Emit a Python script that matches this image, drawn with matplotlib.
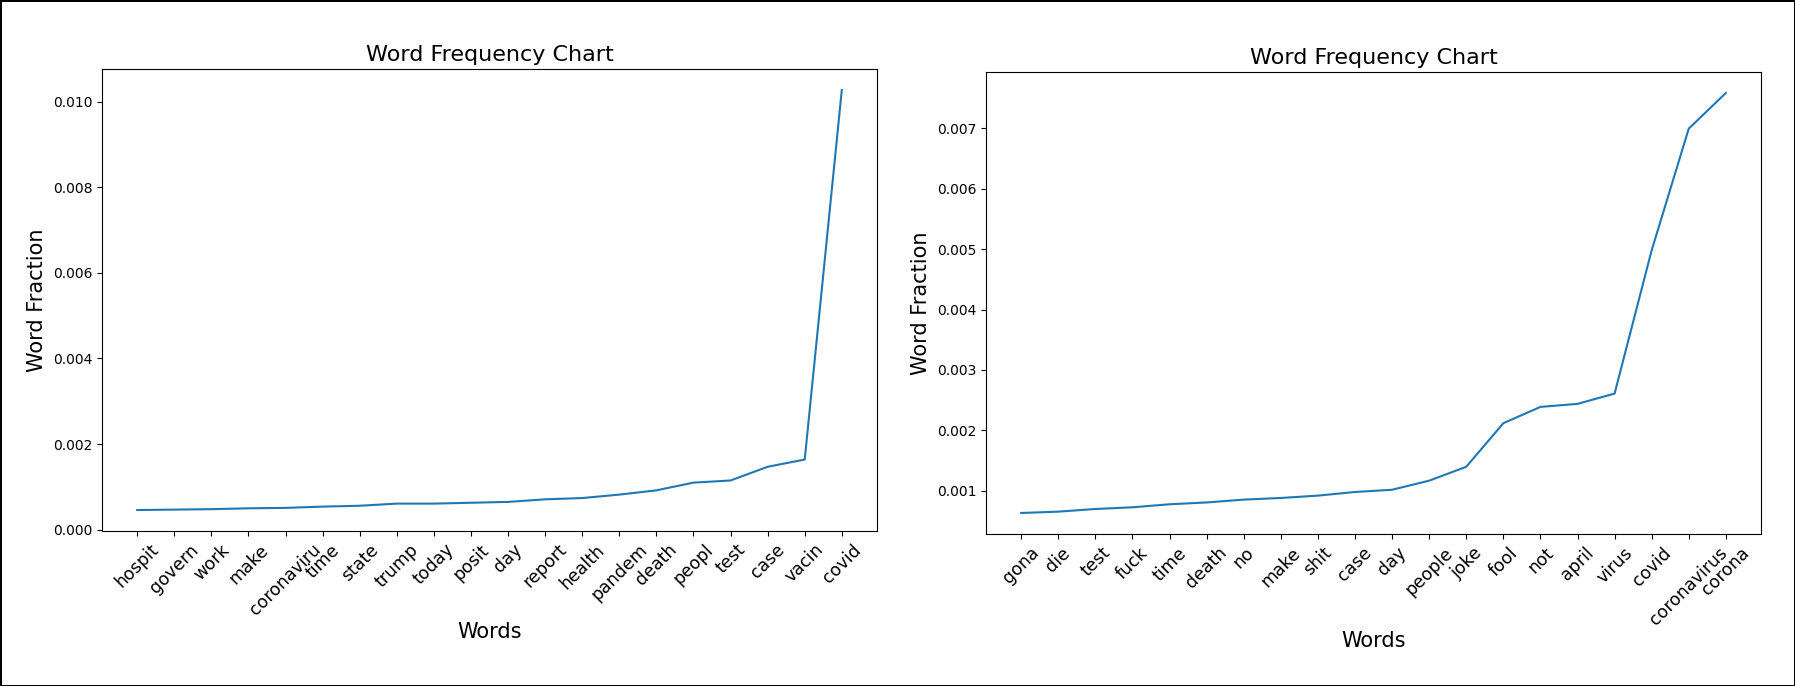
import matplotlib
matplotlib.use('Agg')
import matplotlib.pyplot as plt

# Слова і частки (ліва діаграма)
words_left = ['hospit', 'govern', 'work', 'make', 'coronaviru', 'time', 'state',
              'trump', 'today', 'posit', 'day', 'report', 'health', 'pandem',
              'death', 'peopl', 'test', 'case', 'vacin', 'covid']
frac_left = [0.00046, 0.00047, 0.00048, 0.00050, 0.00051, 0.00054, 0.00056,
             0.00061, 0.00061, 0.00063, 0.00065, 0.00071, 0.00074, 0.00082,
             0.00092, 0.00110, 0.00115, 0.00147, 0.00164, 0.01027]

# Слова і частки (права діаграма)
words_right = ['gona', 'die', 'test', 'fuck', 'time', 'death', 'no', 'make',
               'shit', 'case', 'day', 'people', 'joke', 'fool', 'not', 'april',
               'virus', 'covid', 'coronavirus', 'corona']
frac_right = [0.000636, 0.000658, 0.000702, 0.00073, 0.00078, 0.00081,
              0.000857, 0.000884, 0.000923, 0.000983, 0.00102, 0.00117,
              0.00140, 0.00212, 0.00239, 0.00244, 0.00261, 0.00498,
              0.00699, 0.00758]

fig = plt.figure(figsize=(17.95, 6.86), dpi=100)
fig.patch.set_edgecolor('black')
fig.patch.set_linewidth(2)

ax1 = fig.add_axes([0.0568, 0.2259, 0.4318, 0.6735])
ax2 = fig.add_axes([0.5493, 0.2216, 0.4318, 0.6735])

for ax, words, frac in [(ax1, words_left, frac_left), (ax2, words_right, frac_right)]:
    ax.plot(words, frac)
    ax.set_title('Word Frequency Chart', fontsize=16)
    ax.set_xlabel('Words', fontsize=15, labelpad=2)
    ax.set_ylabel('Word Fraction', fontsize=15)
    ax.tick_params(axis='x', labelsize=12.5, labelrotation=45)

plt.savefig('out.png', dpi=100, edgecolor=fig.get_edgecolor())
